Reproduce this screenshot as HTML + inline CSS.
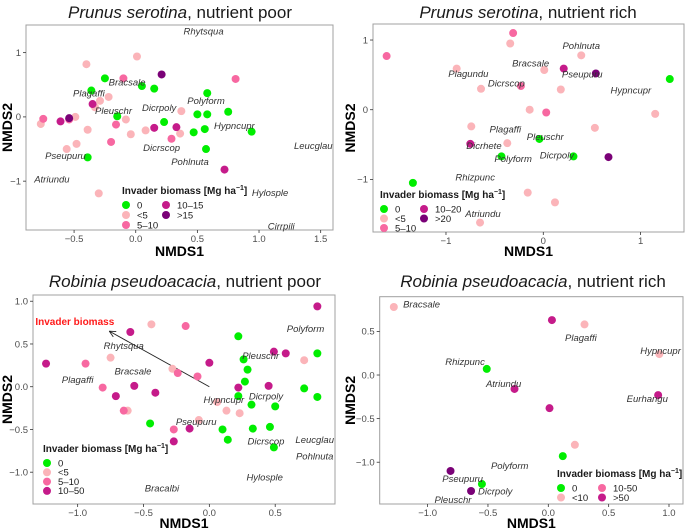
<!DOCTYPE html>
<html><head><meta charset="utf-8">
<style>
html,body{margin:0;padding:0;background:#fff;}
svg{display:block;font-family:"Liberation Sans",sans-serif;}
</style></head>
<body>
<svg id="fig" width="685" height="531" viewBox="0 0 685 531" xmlns="http://www.w3.org/2000/svg"></svg>
<script>
// ---------- Colors ----------
const G="#00ee00", P="#fbb4b9", M="#f768a1", D="#c51b8a", V="#7a0177";

// ---------- Panel 1: Prunus serotina, nutrient poor ----------
const p1x=[-0.36,-0.25,0.05,0.15,-0.15,0.23,0.50,0.58,0.58,0.75,0.47,0.56,0.94,0.57,-0.39,
 -0.40,0.01,-0.29,-0.22,-0.33,-0.49,-0.77,-0.39,-0.56,-0.48,-0.04,0.08,-0.08,0.37,0.36,-0.30,
 -0.75,-0.10,-0.54,-0.16,-0.20,0.29,0.81,
 -0.35,-0.61,0.15,0.33,0.72,
 0.21,-0.54];
const p1y=[0.41,0.60,0.48,0.44,0.01,-0.08,0.04,0.04,0.37,0.08,-0.24,-0.19,-0.23,-0.50,-0.63,
 0.82,0.94,0.25,0.31,0.15,0.00,-0.11,-0.20,-0.50,-0.42,-0.27,-0.21,-0.04,0.09,-0.26,-1.19,
 -0.03,0.60,-0.04,-0.12,-0.39,-0.34,0.59,
 0.20,-0.07,-0.17,-0.16,-0.82,
 0.66,-0.02];
const p1g=[0,0,0,0,0,0,0,0,0,0,0,0,0,0,0, 1,1,1,1,1,1,1,1,1,1,1,1,1,1,1,1, 2,2,2,2,2,2,2, 3,3,3,3,3, 4,4];
const p1sp=["Rhytsqua","Bracsale","Plagaffi","Pleuschr","Dicrpoly","Polyform","Hypncupr","Dicrscop","Pohlnuta","Leucglau","Pseupuru","Atriundu","Hylosple","Cirrpili"];
const p1sx=[0.55,-0.07,-0.38,-0.18,0.19,0.57,0.80,0.21,0.44,1.44,-0.57,-0.68,1.09,1.18];
const p1sy=[1.33,0.54,0.37,0.10,0.14,0.25,-0.14,-0.48,-0.70,-0.45,-0.60,-0.97,-1.18,-1.70];
const p1xt=[-0.5,0.0,0.5,1.0,1.5], p1xl=["\u22120.5","0.0","0.5","1.0","1.5"];
const p1yt=[-1,0,1], p1yl=["\u22121","0","1"];
const p1lev=["0","<5","5\u201310","10\u201315",">15"];

// ---------- Panel 2: Prunus serotina, nutrient rich ----------
const p2x=[1.30,-0.04,-0.43,0.31,-1.34,
 -0.34,0.39,-0.89,0.01,-0.64,0.18,-0.14,-0.74,0.53,1.15,-0.37,-0.16,0.12,-0.65,
 -1.61,-0.31,0.03,-0.23, 0.21,-0.75, 0.54,0.67];
const p2y=[0.44,-0.42,-0.67,-0.67,-1.05,
 0.95,0.78,0.59,0.57,0.30,0.29,0.00,-0.24,-0.26,-0.06,-0.48,-1.19,-1.33,-1.62,
 0.77,1.10,-0.04,0.34, 0.59,-0.49, 0.52,-0.68];
const p2g=[0,0,0,0,0, 1,1,1,1,1,1,1,1,1,1,1,1,1,1, 2,2,2,2, 3,3, 4,4];
const p2sp=["Pohlnuta","Bracsale","Plagundu","Pseupuru","Dicrscop","Hypncupr","Plagaffi","Pleuschr","Dicrhete","Dicrpoly","Polyform","Rhizpunc","Atriundu"];
const p2sx=[0.39,-0.13,-0.77,0.40,-0.38,0.90,-0.39,0.02,-0.61,0.14,-0.31,-0.70,-0.62];
const p2sy=[0.92,0.67,0.52,0.51,0.38,0.28,-0.28,-0.39,-0.52,-0.65,-0.70,-0.97,-1.49];
const p2xt=[-1,0,1], p2xl=["\u22121","0","1"];
const p2yt=[-1,0,1], p2yl=["\u22121","0","1"];
const p2lev=["0","<5","5\u201310","10\u201320",">20"];

// ---------- Panel 3: Robinia pseudoacacia, nutrient poor ----------
const p3x=[0.22,0.26,0.29,0.27,0.22,0.32,0.50,0.82,0.72,0.82,-0.45,0.10,0.33,0.46,0.14,0.49,
 -0.44,-0.75,-0.28,-0.62,0.06,0.13,0.23,-0.08,0.72,
 -0.18,-0.94,-0.81,-0.24,-0.09,-0.65,-0.27,
 -1.24,-0.60,0.00,-0.57,-0.41,-0.71,0.22,0.45,0.49,0.58,0.82,-0.15,-0.27];
const p3y=[0.59,0.32,0.20,0.06,-0.11,-0.21,-0.23,0.39,-0.02,-0.12,-0.43,-0.50,-0.49,-0.47,-0.62,-0.71,
 0.73,0.34,0.21,-0.28,-0.18,-0.28,-0.31,-0.39,0.31,
 0.71,0.27,-0.01,0.16,0.12,-0.28,-0.50,
 0.27,0.64,0.28,0.01,-0.07,-0.11,-0.01,0.01,0.41,0.39,0.94,-0.49,-0.64];
const p3g=[0,0,0,0,0,0,0,0,0,0,0,0,0,0,0,0, 1,1,1,1,1,1,1,1,1, 2,2,2,2,2,2,2, 3,3,3,3,3,3,3,3,3,3,3,3,3];
const p3sp=["Polyform","Rhytsqua","Pleuschr","Bracsale","Plagaffi","Dicrpoly","Hypncupr","Pseupuru","Dicrscop","Leucglau","Pohlnuta","Hylosple","Bracalbi"];
const p3sx=[0.73,-0.65,0.39,-0.58,-1.00,0.43,0.11,-0.10,0.43,0.80,0.80,0.42,-0.36];
const p3sy=[0.68,0.48,0.36,0.18,0.08,-0.11,-0.15,-0.41,-0.64,-0.62,-0.81,-1.06,-1.19];
const p3xt=[-1.0,-0.5,0.0,0.5], p3xl=["\u22121.0","\u22120.5","0.0","0.5"];
const p3yt=[-1.0,-0.5,0.0,0.5,1.0], p3yl=["\u22121.0","\u22120.5","0.0","0.5","1.0"];
const p3lev=["0","<5","5\u201310","10\u201350"];
const p3arrow=[-0.76,0.65];

// ---------- Panel 4: Robinia pseudoacacia, nutrient rich ----------
const p4x=[-0.51,0.12,-0.55, -1.28,0.30,0.92,0.22, 0.03,-0.28,0.01,0.91, -0.81,-0.64];
const p4y=[0.07,-0.93,-1.25, 0.78,0.58,0.24,-0.80, 0.63,-0.16,-0.38,-0.23, -1.10,-1.33];
const p4g=[0,0,0, 1,1,1,1, 3,3,3,3, 4,4];
const p4sp=["Bracsale","Plagaffi","Hypncupr","Rhizpunc","Atriundu","Eurhangu","Polyform","Pseupuru","Dicrpoly","Pleuschr"];
const p4sx=[-1.05,0.27,0.93,-0.69,-0.37,0.82,-0.32,-0.71,-0.44,-0.79];
const p4sy=[0.81,0.43,0.28,0.15,-0.10,-0.27,-1.04,-1.19,-1.33,-1.43];
const p4xt=[-1.0,-0.5,0.0,0.5,1.0], p4xl=["\u22121.0","\u22120.5","0.0","0.5","1.0"];
const p4yt=[-1.0,-0.5,0.0,0.5], p4yl=["\u22121.0","\u22120.5","0.0","0.5"];
const p4lev=["0","<10","10-50",">50"];

// ---------- Rendering ----------
const NS="http://www.w3.org/2000/svg";
const svg=document.getElementById("fig");
function mk(tag,attrs,parent,text){
  const e=document.createElementNS(NS,tag);
  for(const k in attrs)e.setAttribute(k,attrs[k]);
  if(text!==undefined)e.textContent=text;
  (parent||svg).appendChild(e);return e;
}
const COLS=[G,P,M,D,V];

function panel(o){
  const g=mk("g",{transform:`translate(${o.ox},${o.oy})`});
  
  
  const sx=v=>o.L+(v-o.x0)/(o.x1-o.x0)*(o.R-o.L);
  const sy=v=>o.T+(o.y1-v)/(o.y1-o.y0)*(o.B-o.T);
  // title
  const t=mk("text",{x:o.tx,y:o.ty,"text-anchor":"middle","font-size":"17",fill:"#1a1a1a"},g);
  
  
  mk("tspan",{"font-style":"italic"},t,o.t1);
  mk("tspan",{},t,o.t2);
  // box
  const box=mk("rect",{x:o.L,y:o.T,width:o.R-o.L,height:o.B-o.T,fill:"none",stroke:"#a0a0a0","stroke-width":"1"},g);
  
  
  // x ticks
  o.xt.forEach((v,i)=>{
    const X=sx(v);
    mk("line",{x1:X,x2:X,y1:o.B,y2:o.B+3,stroke:"#333","stroke-width":"0.8"},g);
    const tl=mk("text",{x:X,y:o.B+12,"text-anchor":"middle","font-size":"9.5",fill:"#4d4d4d"},g,o.xl[i]);
    
    
  });
  o.yt.forEach((v,i)=>{
    const Y=sy(v);
    mk("line",{x1:o.L-3,x2:o.L,y1:Y,y2:Y,stroke:"#333","stroke-width":"0.8"},g);
    const tl=mk("text",{x:o.L-5,y:Y+3.3,"text-anchor":"end","font-size":"9.5",fill:"#4d4d4d"},g,o.yl[i]);
    
    
  });
  const xa=mk("text",{x:(o.L+o.R)/2,y:o.xay,"text-anchor":"middle","font-size":"14","font-weight":"bold",fill:"#000"},g,"NMDS1");
  
  
  const ya=mk("text",{x:0,y:0,transform:`translate(${o.yax},${(o.T+o.B)/2}) rotate(-90)`,"text-anchor":"middle","font-size":"14","font-weight":"bold",fill:"#000"},g,"NMDS2");
  
  
  // arrow
  if(o.arrow){
    const ax=sx(o.arrow[0]),ay=sy(o.arrow[1]),bx=sx(0),by=sy(0);
    const ar=mk("line",{x1:bx,y1:by,x2:ax,y2:ay,stroke:"#222","stroke-width":"0.9"},g);
    
    
    const ang=Math.atan2(by-ay,bx-ax);
    [0.45,-0.45].forEach(d=>{
      mk("line",{x1:ax,y1:ay,x2:ax+7*Math.cos(ang+d),y2:ay+7*Math.sin(ang+d),stroke:"#222","stroke-width":"0.9"},g);
    });
    const al=mk("text",{x:ax+5,y:ay-6,"text-anchor":"end","font-size":"10","font-weight":"bold",fill:"#ff1a1a"},g,"Invader biomass");
    
    
  }
  // points
  o.px.forEach((v,i)=>{
    const c=mk("circle",{cx:sx(v),cy:sy(o.py[i]),r:4,fill:COLS[o.pg[i]]},g);
    
    
  });
  // species labels
  o.sp.forEach((s,i)=>{
    const tl=mk("text",{x:sx(o.sx_[i]),y:sy(o.sy_[i])+3.3,"text-anchor":"middle","font-size":"9.5","font-style":"italic",fill:"#333"},g,s);
    
    
  });
  // legend
  const lg=mk("g",{},g);
  
  
  const lt=mk("text",{x:o.lx,y:o.ly,"font-size":"10","font-weight":"bold",fill:"#1a1a1a"},lg);
  
  
  mk("tspan",{},lt,"Invader biomass [Mg ha");
  mk("tspan",{"font-size":"7",dy:"-4"},lt,"\u22121");
  mk("tspan",{dy:"4"},lt,"]");
  o.lev.forEach((s,i)=>{
    const col=i<o.split?0:1, row=i<o.split?i:i-o.split;
    const cx=o.lx+4+col*o.colw, cy=o.ly+11+row*o.rowh;
    const d=mk("circle",{cx:cx,cy:cy,r:4,fill:COLS[o.levc[i]]},lg);
    
    
    const tx=mk("text",{x:cx+11,y:cy+3.3,"font-size":"9.5",fill:"#1a1a1a"},lg,s);
    
    
  });
}

panel({name:"panel-prunus-poor",ox:0,oy:0,L:26,R:333,T:25,B:230,x0:-0.89,x1:1.6,y0:-1.76,y1:1.43,
  tx:180,ty:18,t1:"Prunus serotina",t2:", nutrient poor",xt:p1xt,xl:p1xl,yt:p1yt,yl:p1yl,xay:256,yax:12,
  px:p1x,py:p1y,pg:p1g,sp:p1sp,sx_:p1sx,sy_:p1sy,lev:p1lev,levc:[0,1,2,3,4],split:3,lx:122,ly:194,colw:40,rowh:10});
panel({name:"panel-prunus-rich",ox:343,oy:0,L:30,R:341,T:24,B:232,x0:-1.75,x1:1.446,y0:-1.755,y1:1.23,
  tx:185,ty:18,t1:"Prunus serotina",t2:", nutrient rich",xt:p2xt,xl:p2xl,yt:p2yt,yl:p2yl,xay:256,yax:12,
  px:p2x,py:p2y,pg:p2g,sp:p2sp,sx_:p2sx,sy_:p2sy,lev:p2lev,levc:[0,1,2,3,4],split:3,lx:37,ly:198,colw:40,rowh:9.5});
panel({name:"panel-robinia-poor",ox:0,oy:265,L:33,R:335,T:30,B:239,x0:-1.339,x1:0.954,y0:-1.372,y1:1.073,
  tx:185,ty:22,t1:"Robinia pseudoacacia",t2:", nutrient poor",xt:p3xt,xl:p3xl,yt:p3yt,yl:p3yl,xay:263,yax:12,
  px:p3x,py:p3y,pg:p3g,sp:p3sp,sx_:p3sx,sy_:p3sy,lev:p3lev,levc:[0,1,2,3],split:4,lx:43,ly:187,colw:40,rowh:9.3,arrow:p3arrow});
panel({name:"panel-robinia-rich",ox:343,oy:265,L:36.7,R:340,T:31.7,B:239,x0:-1.397,x1:1.116,y0:-1.479,y1:0.898,
  tx:190,ty:22,t1:"Robinia pseudoacacia",t2:", nutrient rich",xt:p4xt,xl:p4xl,yt:p4yt,yl:p4yl,xay:263,yax:12,
  px:p4x,py:p4y,pg:p4g,sp:p4sp,sx_:p4sx,sy_:p4sy,lev:p4lev,levc:[0,1,2,3],split:2,lx:214,ly:212,colw:41,rowh:9.5});
</script>
</body></html>
